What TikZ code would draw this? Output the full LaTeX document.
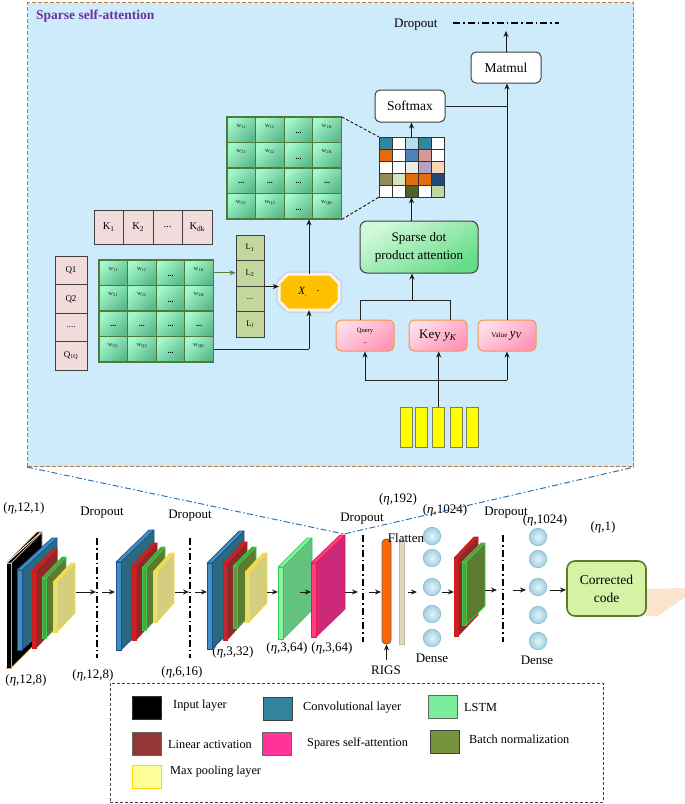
\documentclass[tikz,border=0pt]{standalone}
\usepackage{fontspec}
\setmainfont{Liberation Serif}
\usetikzlibrary{arrows.meta,calc}

\definecolor{bgblue}{HTML}{CDEBFB}
\definecolor{boxbrown}{HTML}{C0783C}
\definecolor{ttl}{HTML}{7030A0}
\definecolor{dk}{HTML}{404040}
\definecolor{wlight}{HTML}{A3F8CC}
\definecolor{wdark}{HTML}{5BBA8C}
\definecolor{wborder}{HTML}{4E7A3C}
\definecolor{pinkc}{HTML}{F2DCDB}
\definecolor{lgreen}{HTML}{C3D69B}
\definecolor{octo}{HTML}{FFC000}
\definecolor{sdl}{HTML}{D2F8DA}
\definecolor{sdd}{HTML}{66DD88}
\definecolor{qkl}{HTML}{FFDDE9}
\definecolor{qkd}{HTML}{FF95B8}
\definecolor{qkb}{HTML}{F79646}
\definecolor{ybar}{HTML}{FFFF00}
\definecolor{ybord}{HTML}{7F7F4F}
\definecolor{am1}{HTML}{31859C}
\definecolor{am2}{HTML}{B7DEE8}
\definecolor{am3}{HTML}{E36C09}
\definecolor{am4}{HTML}{4F81BD}
\definecolor{am5}{HTML}{D99694}
\definecolor{am6}{HTML}{EEECE1}
\definecolor{am7}{HTML}{B3A2C7}
\definecolor{am8}{HTML}{FCD5B5}
\definecolor{am9}{HTML}{948A54}
\definecolor{amA}{HTML}{D7E4BC}
\definecolor{amB}{HTML}{1F497D}
\definecolor{amC}{HTML}{4F6228}
\definecolor{amD}{HTML}{C3D69B}
\definecolor{bluedd}{HTML}{2E75B6}
\definecolor{cvF}{HTML}{2B6A7E}
\definecolor{cvS}{HTML}{3F90C2}
\definecolor{cvE}{HTML}{1F4F8F}
\definecolor{lnF}{HTML}{8A2A2A}
\definecolor{lnS}{HTML}{C0262C}
\definecolor{lnE}{HTML}{D01818}
\definecolor{bnF}{HTML}{5C7A30}
\definecolor{bnS}{HTML}{5A9B3C}
\definecolor{bnE}{HTML}{3CCB4E}
\definecolor{plF}{HTML}{D3CF7E}
\definecolor{plS}{HTML}{E8DD70}
\definecolor{plE}{HTML}{FFD933}
\definecolor{lsF}{HTML}{62C27E}
\definecolor{lsS}{HTML}{8AF0A0}
\definecolor{lsE}{HTML}{2FCB5C}
\definecolor{atF}{HTML}{CC2A78}
\definecolor{atS}{HTML}{FF3D7F}
\definecolor{atE}{HTML}{E8194F}
\definecolor{tanc}{HTML}{D2A679}
\definecolor{olivearr}{HTML}{5F7A3A}
\definecolor{rigsc}{HTML}{FF6600}
\definecolor{flatc}{HTML}{DDD9C3}
\definecolor{dense1}{HTML}{E6F5FA}
\definecolor{dense2}{HTML}{9FCFE1}
\definecolor{denseb}{HTML}{8AB8CC}
\definecolor{ccf}{HTML}{D5F2A5}
\definecolor{ccb}{HTML}{5B7B2A}
\definecolor{peach}{HTML}{FBE3CE}
\definecolor{lgCv}{HTML}{31849B}
\definecolor{lgLs}{HTML}{7AEE9A}
\definecolor{lgLn}{HTML}{953735}
\definecolor{lgAt}{HTML}{FF3399}
\definecolor{lgBn}{HTML}{77933C}
\definecolor{lgPl}{HTML}{FFFF99}
\definecolor{lgPlb}{HTML}{FFD700}

% slab: x, ytop, strip width, height, dx, dy(up), strip colour, face colour, edge colour
\newcommand{\slab}[9]{%
  \filldraw[fill=#8, draw=#9, line width=0.7pt, line join=round] (#1+#3,#2) -- ++(#5,-#6) -- ++(0,#4) -- (#1+#3,#2+#4) -- cycle;
  \filldraw[fill=#7, draw=#9, line width=0.7pt, line join=round] (#1,#2) -- ++(#5,-#6) -- ++(#3,0) -- (#1+#3,#2) -- cycle;
  \filldraw[fill=#7, draw=#9, line width=0.7pt] (#1,#2) rectangle (#1+#3,#2+#4);
}

% weight matrix: name, x, y (top-left)
\newcommand{\wmat}[3]{%
  \foreach \ri in {1,2,3,4}{\foreach \ci in {1,2,3,4}{
    \node[wcell] (#1-\ri-\ci) at ({#2+28.6*(\ci-0.5)},{#3+25.5*(\ri-0.5)}) {};}}
  \foreach \ri/\ci/\tx in {1/1/11,1/2/12,1/4/1K,2/1/21,2/2/22,2/4/2K,4/1/Q1,4/2/Q2,4/4/QK}
    \node[wlab] (#1-t-\ri-\ci) at ({#2+28.6*(\ci-0.5)},{#3+25.5*(\ri-1)+9.5}) {w\textsubscript{\tx}};
  \foreach \ri/\ci/\dy in {1/3/16,2/3/16,4/3/16,3/1/14.5,3/2/14.5,3/3/14.5,3/4/14.5}
    \node[wdot] (#1-d-\ri-\ci) at ({#2+28.6*(\ci-0.5)},{#3+25.5*(\ri-1)+\dy}) {...};
  \node[inner sep=0, minimum width=114.4pt, minimum height=102pt, anchor=north west] (#1) at (#2,#3) {};
}

\begin{document}
\begin{tikzpicture}[x=1pt,y=-1pt,
 arr/.style={-{Stealth[length=6pt,width=5pt]}, line width=1pt, black!90},
 con/.style={line width=1pt, black!85},
 ddot/.style={line width=1.5pt, dash pattern=on 7pt off 3pt on 1.5pt off 3pt},
 f13/.style={font=\fontsize{13}{15}\selectfont},
 lbl/.style={f13, inner sep=0},
 wbox/.style={draw=dk, fill=white, rounded corners=5pt, line width=1pt, font=\fontsize{13.5}{15}\selectfont, inner sep=0},
 wcell/.style={draw=wborder, line width=1.1pt, top color=wlight, bottom color=wdark, shading angle=45, minimum width=28.6pt, minimum height=25.5pt, inner sep=0},
 wlab/.style={font=\fontsize{6.5}{7}\selectfont, inner sep=0, text=black!85},
 wdot/.style={font=\bfseries\fontsize{8}{8}\selectfont, inner sep=0},
 pcell/.style={draw=dk, fill=pinkc, line width=1pt, inner sep=0},
 acell/.style={draw=black!80, line width=0.6pt, minimum width=13pt, minimum height=12pt, inner sep=0},
 qkv/.style={draw=qkb, line width=1pt, rounded corners=5pt, top color=qkl, bottom color=qkd, shading angle=35, minimum width=58pt, minimum height=31pt, inner sep=0},
 ybr/.style={draw=ybord, fill=ybar, line width=1pt, minimum width=12pt, minimum height=40pt, inner sep=0},
 dn/.style={circle, draw=denseb, line width=0.6pt, inner color=dense1, outer color=dense2, minimum size=17.5pt, inner sep=0},
 lg/.style={minimum width=29pt, minimum height=23pt, inner sep=0, line width=1pt},
 lgt/.style={font=\fontsize{12.3}{14}\selectfont, inner sep=0, anchor=west},
]
\useasboundingbox (0,0) rectangle (685,804);

% ===== attention box =====
\node[draw=boxbrown, fill=bgblue, dash pattern=on 4pt off 2pt, line width=1.1pt, minimum width=606pt, minimum height=464pt, inner sep=0, anchor=north west] (attbox) at (27,2) {};
\node[anchor=west, inner sep=0, text=ttl, font=\bfseries\fontsize{13.5}{15}\selectfont] (title) at (36,16) {Sparse self-attention};

% top dropout
\node[lbl, anchor=west] (tdrop) at (394,25) {Dropout};
\coordinate (tdl) at (453,23);
\coordinate (tdr) at (559,23);
\draw[ddot, line width=1.7pt] (tdl) -- (tdr);

\node[wbox, minimum width=70pt, minimum height=31pt] (matmul) at (506,67.5) {Matmul};
\node[wbox, minimum width=70pt, minimum height=32pt] (softmax) at (410,106) {Softmax};
\coordinate (mmtop) at (506,31);
\draw[arr] (matmul.north) -- (mmtop);

% attention colour matrix
\foreach \cl [count=\ci] in {am1,white,am2,am1,white} \node[acell, fill=\cl] (am-1-\ci) at ({379+13*(\ci-0.5)},143) {};
\foreach \cl [count=\ci] in {am3,white,am4,am5,white} \node[acell, fill=\cl] (am-2-\ci) at ({379+13*(\ci-0.5)},155) {};
\foreach \cl [count=\ci] in {white,white,am6,am7,am8} \node[acell, fill=\cl] (am-3-\ci) at ({379+13*(\ci-0.5)},167) {};
\foreach \cl [count=\ci] in {am9,amA,am3,am3,amB} \node[acell, fill=\cl] (am-4-\ci) at ({379+13*(\ci-0.5)},179) {};
\foreach \cl [count=\ci] in {white,white,amC,white,amD} \node[acell, fill=\cl] (am-5-\ci) at ({379+13*(\ci-0.5)},191) {};
\node[inner sep=0, minimum width=65pt, minimum height=60pt] (attmat) at (411.5,167) {};
\draw[arr] (attmat.north) -- (attmat.north |- softmax.south);

% top weight matrix
\wmat{wt}{227}{117}
\draw[line width=0.8pt, dash pattern=on 3pt off 2pt] (wt.north east) -- (attmat.north west);
\draw[line width=0.8pt, dash pattern=on 3pt off 2pt] (wt.south east) -- (attmat.south west);

% sparse dot product attention
\node[draw=dk, line width=1pt, rounded corners=7pt, top color=sdl, bottom color=sdd, shading angle=30, minimum width=118pt, minimum height=52pt, inner sep=0, align=center, font=\fontsize{13}{18}\selectfont] (sdpa) at (419,247) {Sparse dot\\product attention};
\draw[arr] (sdpa.north -| attmat.south) -- (attmat.south);

% query key value
\node[qkv, align=center] (query) at (365,335.5) {{\fontsize{6.5}{7}\selectfont Query}\\[-1pt]{\fontsize{8}{6}\selectfont ..}};
\node[qkv, f13] (key) at (438,335.5) {Key \textit{y}\textsubscript{\textit{K}}};
\node[qkv] (value) at (507,335.5) {{\fontsize{7}{8}\selectfont Value} {\fontsize{13}{15}\selectfont\textit{y}\textsubscript{\textit{V}}}};

\coordinate (qj) at (360,300);
\coordinate (kj) at (450,300);
\coordinate (qkm) at (412,300);
\draw[con] (qj |- query.north) -- (qj) -- (kj) -- (kj |- key.north);
\draw[arr] (qkm) -- (qkm |- sdpa.south);
\coordinate (vj) at (value.north |- softmax.east);
\draw[con] (softmax.east) -- (vj);
\draw[arr] (value.north) -- (value.north |- matmul.south);

% yellow bars
\foreach \xb [count=\i] in {406.2,421.7,438.7,456.3,472.7} \node[ybr] (yb\i) at (\xb,427) {};
\draw[arr] (yb3.north) -- (yb3.north |- key.south);
\coordinate (hline) at (400,380);
\draw[con] (query.south |- hline) -- (value.south |- hline);
\draw[arr] (query.south |- hline) -- (query.south);
\draw[arr] (value.south |- hline) -- (value.south);

% K row
\node[pcell, minimum width=29.5pt, minimum height=34pt, font=\fontsize{10.5}{12}\selectfont] (k1) at (108.75,227) {K\textsubscript{1}};
\node[pcell, minimum width=29.5pt, minimum height=34pt, font=\fontsize{10.5}{12}\selectfont] (k2) at (138.25,227) {K\textsubscript{2}};
\node[pcell, minimum width=29.5pt, minimum height=34pt, font=\fontsize{10.5}{12}\selectfont] (k3) at (167.75,227) {...};
\node[pcell, minimum width=29.5pt, minimum height=34pt, font=\fontsize{10.5}{12}\selectfont] (k4) at (197.25,227) {K\textsubscript{dk}};

% Q column
\node[pcell, minimum width=32pt, minimum height=28.5pt, font=\fontsize{9}{11}\selectfont] (q1) at (71,270.25) {Q1};
\node[pcell, minimum width=32pt, minimum height=28.5pt, font=\fontsize{9}{11}\selectfont] (q2) at (71,298.75) {Q2};
\node[pcell, minimum width=32pt, minimum height=28.5pt, font=\fontsize{9}{11}\selectfont] (q3) at (71,327.25) {....};
\node[pcell, minimum width=32pt, minimum height=28.5pt, font=\fontsize{9}{11}\selectfont] (q4) at (71,355.75) {Q\textsubscript{1Q}};

% bottom weight matrix
\wmat{wb}{99}{260}

% L column
\node[draw=dk, fill=lgreen, line width=1pt, inner sep=0, minimum width=28pt, minimum height=25.5pt, font=\fontsize{8.5}{10}\selectfont] (l1) at (250,247.75) {L\textsubscript{1}};
\node[draw=dk, fill=lgreen, line width=1pt, inner sep=0, minimum width=28pt, minimum height=25.5pt, font=\fontsize{8.5}{10}\selectfont] (l2) at (250,273.25) {L\textsubscript{2}};
\node[draw=dk, fill=lgreen, line width=1pt, inner sep=0, minimum width=28pt, minimum height=25.5pt, font=\fontsize{8.5}{10}\selectfont] (l3) at (250,298.75) {...};
\node[draw=dk, fill=lgreen, line width=1pt, inner sep=0, minimum width=28pt, minimum height=25.5pt, font=\fontsize{8.5}{10}\selectfont] (l4) at (250,324.25) {L\textsubscript{l}};

\draw[-{Stealth[length=6pt,width=5pt]}, line width=1.2pt, draw=olivearr] (wb-1-4.east) -- (wb-1-4.east -| l1.west);

% octagon
\node[inner sep=0, minimum width=60pt, minimum height=36pt] (octa) at (309,292) {};
\draw[line width=5pt, draw=black!22, line join=miter] (288,274)--(330,274)--(339,283)--(339,301)--(330,310)--(288,310)--(279,301)--(279,283)--cycle;
\filldraw[fill=octo, draw=black!4, line width=3pt, line join=miter] (288,274)--(330,274)--(339,283)--(339,301)--(330,310)--(288,310)--(279,301)--(279,283)--cycle;
\node[inner sep=0, font=\itshape\fontsize{11}{13}\selectfont] (xt) at (303,292) {X\textsubscript{.}};
\node[inner sep=0, font=\fontsize{11}{13}\selectfont] (xd) at (318,291) {.};

\draw[arr, line width=1.4pt] (l2.south east) -- (l2.south east -| octa.west);
\draw[con] (wb-4-4.east) -- (wb-4-4.east -| octa.south);
\draw[arr] (wb-4-4.east -| octa.south) -- (octa.south);
\draw[arr] (octa.north) -- (octa.north |- wt.south);

% ===== bottom network =====
\slab{6}{563}{5}{105}{31}{31}{black}{black}{tanc}
\draw[white, line width=0.8pt] (6.5,667) -- (6.5,563) -- (40,533);
\slab{17}{570}{5}{80}{35}{32}{cvS}{cvF}{cvE}
\slab{32}{571}{4}{77}{21}{22}{lnS}{lnF}{lnE}
\slab{42}{578}{4}{60}{20}{21}{bnS}{bnF}{bnE}
\slab{53}{582}{4}{50}{18}{19}{plS}{plF}{plE}

\slab{116}{562}{5}{88}{33}{32}{cvS}{cvF}{cvE}
\slab{132}{566}{4}{74}{21}{23}{lnS}{lnF}{lnE}
\slab{142}{568}{4}{62}{19}{21}{bnS}{bnF}{bnE}
\slab{153}{572}{4}{50}{17}{19}{plS}{plF}{plE}

\slab{207}{563}{5}{86}{32}{32}{cvS}{cvF}{cvE}
\slab{223}{564}{4}{76}{20}{22}{lnS}{lnF}{lnE}
\slab{233}{566}{4}{62}{19}{19}{bnS}{bnF}{bnE}
\slab{245}{572}{4}{50}{18}{19}{plS}{plF}{plE}

\slab{278}{567}{5}{72}{29}{29}{lsS}{lsF}{lsE}
\slab{311}{563}{5}{74}{29}{28}{atS}{atF}{atE}

\slab{454}{558}{4}{78}{20}{21}{lnS}{lnF}{lnE}
\slab{462}{562}{4}{63}{19}{19}{bnS}{bnF}{bnE}

% RIGS and flatten
\node[draw=black!60, fill=rigsc, rounded corners=4pt, minimum width=9pt, minimum height=105pt, inner sep=0, line width=0.8pt] (rigs) at (386.5,591.5) {};
\node[fill=flatc, draw=flatc!85!black, line width=0.4pt, minimum width=5pt, minimum height=104pt, inner sep=0] (flat) at (401.5,592) {};
\node[lbl] (flatt) at (406,538) {Flatten};
\node[lbl] (rigst) at (386,670) {RIGS};
\coordinate (rigsa) at (386.5,660);
\draw[arr] (rigsa) -- (rigs.south);

% dense
\foreach \yy [count=\i] in {536,558,587,614,638} \node[dn] (dA\i) at (432,\yy) {};
\foreach \yy [count=\i] in {537,559,587,615,641} \node[dn] (dB\i) at (538,\yy) {};

% corrected code
\fill[peach] (646,589) -- (685,588) -- (685,597) -- (658,616) -- (646,616) -- cycle;
\node[draw=ccb, fill=ccf, line width=1.6pt, rounded corners=8pt, minimum width=79pt, minimum height=55pt, inner sep=0, align=center, font=\fontsize{13.5}{18}\selectfont] (cc) at (606.5,588.5) {Corrected\\code};

% arrows
\foreach \s/\e/\yy [count=\i] in {76/96/592, 102/115/592, 175/189/592, 195/207/592, 267/278/592, 300/311/592, 345/358/592, 369/381/592, 408/417/592, 442/454/592, 485/497/590, 513/526/590, 550/566/590}{
  \coordinate (as\i) at (\s,\yy);
  \coordinate (ae\i) at (\e,\yy);
  \draw[arr] (as\i) -- (ae\i);
}

% dropout lines
\foreach \xx/\tt/\bb [count=\i] in {97/538/658, 190/538/658, 363/535/642, 503/535/642}{
  \coordinate (dpt\i) at (\xx,\tt);
  \coordinate (dpb\i) at (\xx,\bb);
  \draw[ddot] (dpt\i) -- (dpb\i);
}
\node[lbl] (dl1) at (102,513) {Dropout};
\node[lbl] (dl2) at (190,516) {Dropout};
\node[lbl] (dl3) at (362,519) {Dropout};
\node[lbl] (dl4) at (506,513) {Dropout};

% shape labels
\node[lbl] (s1) at (24,508) {(\textit{η},12,1)};
\node[lbl] (s2) at (26,680) {(\textit{η},12,8)};
\node[lbl] (s3) at (93,675) {(\textit{η},12,8)};
\node[lbl] (s4) at (182,672) {(\textit{η},6,16)};
\node[lbl] (s5) at (233,652) {(\textit{η},3,32)};
\node[lbl] (s6) at (287,648) {(\textit{η},3,64)};
\node[lbl] (s7) at (332,648) {(\textit{η},3,64)};
\node[lbl] (s8) at (398,499) {(\textit{η},192)};
\node[lbl] (s9) at (445,510) {(\textit{η},1024)};
\node[lbl] (s10) at (545,520) {(\textit{η},1024)};
\node[lbl] (s11) at (603,527) {(\textit{η},1)};
\node[lbl] (dn1) at (432,658) {Dense};
\node[lbl] (dn2) at (537,660) {Dense};

% zoom lines
\coordinate (attop) at (344,534);
\draw[bluedd, line width=1pt, dash pattern=on 6pt off 2.5pt on 1.5pt off 2.5pt] (attbox.south west) -- (attop) -- (attbox.south east);

% ===== legend =====
\node[draw=dk, dash pattern=on 3pt off 2pt, line width=0.9pt, minimum width=493pt, minimum height=119pt, inner sep=0, anchor=north west] (legend) at (110,683) {};
\node[lg, fill=black, draw=black!80] (lg1) at (147,707.5) {};
\node[lg, fill=lgCv, draw=black!75] (lg2) at (277.5,708.5) {};
\node[lg, fill=lgLs, draw=black!60] (lg3) at (443,706.5) {};
\node[lg, fill=lgLn, draw=black!60] (lg4) at (146.5,743.5) {};
\node[lg, fill=lgAt, draw=black!60] (lg5) at (277,743.5) {};
\node[lg, fill=lgBn, draw=black!75] (lg6) at (444.5,741.5) {};
\node[lg, fill=lgPl, draw=lgPlb] (lg7) at (146.5,776.5) {};
\node[lgt] (lt1) at (173,706) {Input layer};
\node[lgt] (lt2) at (303,708) {Convolutional layer};
\node[lgt] (lt3) at (464,707) {LSTM};
\node[lgt] (lt4) at (168,744) {Linear activation};
\node[lgt] (lt5) at (307,743) {Spares self-attention};
\node[lgt] (lt6) at (469,739) {Batch normalization};
\node[lgt] (lt7) at (170,772) {Max pooling layer};

\end{tikzpicture}
\end{document}
